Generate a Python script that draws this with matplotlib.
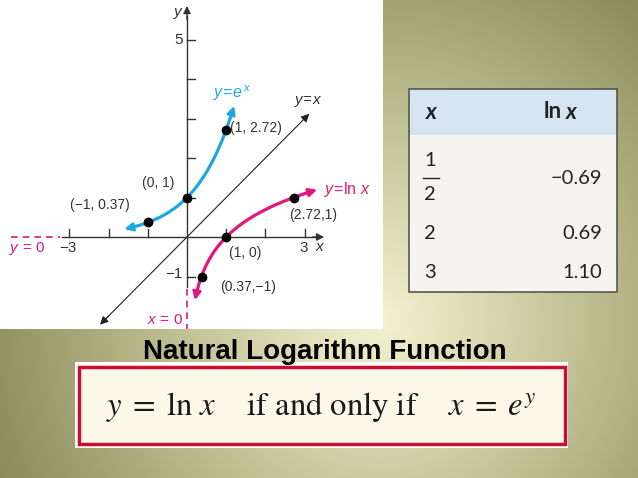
import numpy as np
import matplotlib
matplotlib.use('Agg')
from matplotlib import pyplot as plt
from matplotlib.patches import Rectangle

# points marked on the curves
ex_x = [-1, 0, 1]
ex_y = [0.37, 1, 2.72]
ln_x = [0.37, 1, 2.72]
ln_y = [-1, 0, 1]
pt_labels = ['(\u22121, 0.37)', '(0, 1)', '(1, 2.72)', '(0.37,\u22121)', '(1, 0)', '(2.72,1)']
pt_label_xy = [(-2.22, 0.81), (-0.74, 1.37), (1.76, 2.76), (1.56, -1.27), (1.48, -0.41), (3.21, 0.56)]

# table of values
tab_x = ['1/2', '2', '3']
tab_lnx = ['\u22120.69', '0.69', '1.10']

x_ticks = [-3, -2, -1, 1, 2, 3]
y_ticks = [-1, 1, 2, 3, 4, 5]

blue = '#1ea6e0'
pink = '#e0177f'
grey = '#333333'

plt.rcParams['mathtext.fontset'] = 'custom'
plt.rcParams['mathtext.it'] = 'Liberation Sans:italic'
plt.rcParams['mathtext.rm'] = 'Liberation Sans'

W, H = 638, 478
fig = plt.figure(figsize=(W / 100, H / 100), dpi=100)

# background: radial olive gradient
bg = fig.add_axes([0, 0, 1, 1])
bg.set_xlim(0, W)
bg.set_ylim(H, 0)
bg.axis('off')
yy, xx = np.mgrid[0:H, 0:W]
r = np.sqrt((xx - 380.) ** 2 + (yy - 320.) ** 2) / 420.
r = np.clip(r, 0, 1)
c0 = np.array([0xf4, 0xf3, 0xd0]) / 255.
c1 = np.array([0x88, 0x89, 0x56]) / 255.
img = c0[None, None, :] * (1 - r[..., None]) + c1[None, None, :] * r[..., None]
bg.imshow(img, extent=[0, W, H, 0], aspect='auto', zorder=0)

# table
bg.add_patch(Rectangle((409, 89), 208, 203, facecolor='#f6f4ef', edgecolor='none', zorder=1))
bg.add_patch(Rectangle((409, 89), 208, 46, facecolor='#d6e4f2', edgecolor='none', zorder=1))
bg.add_patch(Rectangle((409, 89), 208, 203, facecolor='none', edgecolor='#55564c', lw=1.2, zorder=2))
tf = 'Lato'
tc = '#222222'
bg.text(431, 112, 'x', fontsize=16, fontweight='bold', style='italic', family=tf,
        ha='center', va='center', color=tc, zorder=3)
bg.text(562, 111, 'ln', fontsize=16, fontweight='bold', family=tf,
        ha='right', va='center', color=tc, zorder=3)
bg.text(566, 112, 'x', fontsize=16, fontweight='bold', style='italic', family=tf,
        ha='left', va='center', color=tc, zorder=3)
row_y = [178, 233, 272]
for lab, val, ry in zip(tab_x, tab_lnx, row_y):
    if '/' in lab:
        num, den = lab.split('/')
        bg.text(430, ry - 18, num, fontsize=14.5, family=tf, ha='center', va='center', color=tc, zorder=3)
        bg.plot([423, 439], [ry, ry], color=tc, lw=1, zorder=3)
        bg.text(430, ry + 17, den, fontsize=14.5, family=tf, ha='center', va='center', color=tc, zorder=3)
    else:
        bg.text(430, ry, lab, fontsize=14.5, family=tf, ha='center', va='center', color=tc, zorder=3)
    bg.text(602, ry, val, fontsize=14.5, family=tf, ha='right', va='center', color=tc, zorder=3)

# title and definition box
bg.text(325, 359, 'Natural Logarithm Function', fontsize=20, fontweight='bold',
        family='Liberation Sans', ha='center', va='baseline', color='black', zorder=3)
bg.add_patch(Rectangle((75, 362), 493, 86, facecolor='white', edgecolor='none', zorder=1))
bg.add_patch(Rectangle((79, 367), 486, 77, facecolor='#fcf9ea', edgecolor='#c8102e', lw=2.5, zorder=2))
bg.text(321, 407, r'$y\;=\;\ln\,x$    if and only if    $x\;=\;e^{y}$', fontsize=23.5,
        family='STIXGeneral', math_fontfamily='stix', ha='center', va='center',
        color='#1a1a1a', zorder=3)

# graph panel
x0, y0, sx, sy = 187., 237., 39.2, 39.5
ax = fig.add_axes([0, (H - 329) / H, 383 / W, 329 / H], zorder=1)
ax.set_xlim(-x0 / sx, (383 - x0) / sx)
ax.set_ylim((y0 - 329) / sy, y0 / sy)
ax.axis('off')
ax.add_patch(Rectangle((0, 0), 1, 1, transform=ax.transAxes, facecolor='white', edgecolor='none', zorder=0))


def arrow(p_from, p_to, color, lw, ms=11):
    ax.annotate('', xy=p_to, xytext=p_from,
                arrowprops=dict(arrowstyle='-|>', color=color, lw=lw, mutation_scale=ms,
                                shrinkA=0, shrinkB=0), zorder=4)


# axes
ax.plot([-3.2, 3.3], [0, 0], color=grey, lw=1.0, zorder=2)
arrow((3.2, 0), (3.5, 0), grey, 1.0)
ax.plot([0, 0], [-1.27, 5.6], color=grey, lw=1.0, zorder=2)
arrow((0, 5.5), (0, 5.85), grey, 1.0)
for t in x_ticks:
    ax.plot([t, t], [0, 0.2], color=grey, lw=1.0, zorder=2)
for t in y_ticks:
    ax.plot([0, 0.2], [t, t], color=grey, lw=1.0, zorder=2)

# asymptotes
ax.plot([-4.5, -3.25], [0, 0], color=pink, lw=1.2, ls=(0, (4, 3)), zorder=2)
ax.plot([0, 0], [-1.32, -2.33], color=pink, lw=1.2, ls=(0, (4, 3)), zorder=2)

# y = x
ax.plot([-2.1, 3.0], [-2.1, 3.0], color='#222222', lw=0.8, zorder=2)
arrow((-2.0, -2.0), (-2.22, -2.22), '#222222', 0.8, ms=12)
arrow((3.0, 3.0), (3.12, 3.12), '#222222', 0.8, ms=12)

# y = e^x and y = ln x
t = np.linspace(-1.45, 1.1, 200)
ax.plot(t, np.exp(t), color=blue, lw=2.3, zorder=3)
ax.plot(np.exp(t), t, color=pink, lw=2.3, zorder=3)
arrow((-1.45, np.exp(-1.45)), (-1.6, np.exp(-1.6)), blue, 2.0, ms=12)
arrow((1.1, np.exp(1.1)), (1.2, np.exp(1.2)), blue, 2.0, ms=12)
arrow((np.exp(-1.45), -1.45), (np.exp(-1.6), -1.6), pink, 2.0, ms=12)
arrow((np.exp(1.1), 1.1), (np.exp(1.2), 1.2), pink, 2.0, ms=12)

ax.plot(ex_x, ex_y, 'o', color='black', ms=6, zorder=5)
ax.plot(ln_x, ln_y, 'o', color='black', ms=6, zorder=5)

lf = dict(family='Liberation Sans', fontsize=10, color=grey, ha='center', va='center', zorder=6)
for lab, (lx, ly) in zip(pt_labels, pt_label_xy):
    ax.text(lx, ly, lab, **lf)

ax.text(-0.23, 5.70, 'y', style='italic', **{**lf, 'fontsize': 11})
ax.text(-0.1, 4.99, '5', **{**lf, 'ha': 'right', 'fontsize': 11})
ax.text(-0.1, -0.94, '\u22121', **{**lf, 'ha': 'right', 'fontsize': 11})
ax.text(-3.04, -0.28, '\u22123', **{**lf, 'fontsize': 11})
ax.text(2.98, -0.28, '3', **{**lf, 'fontsize': 11})
ax.text(3.39, -0.25, 'x', style='italic', **{**lf, 'fontsize': 11})
ax.text(3.09, 3.42, r'$y\!=\!x$', **{**lf, 'fontsize': 11})
ax.text(1.15, 3.65, r'$y\!=\!e^{\,x}$', **{**lf, 'color': blue, 'fontsize': 11.5})
ax.text(4.1, 1.19, r'$y\!=\!\mathrm{ln}\ x$', **{**lf, 'color': pink, 'fontsize': 11.5})
ax.text(-4.08, -0.28, r'$y\,=\,\mathrm{0}$', **{**lf, 'color': pink, 'fontsize': 11})
ax.text(-0.56, -2.1, r'$x\,=\,\mathrm{0}$', **{**lf, 'color': pink, 'fontsize': 11})

fig.savefig('out.png', dpi=100)
